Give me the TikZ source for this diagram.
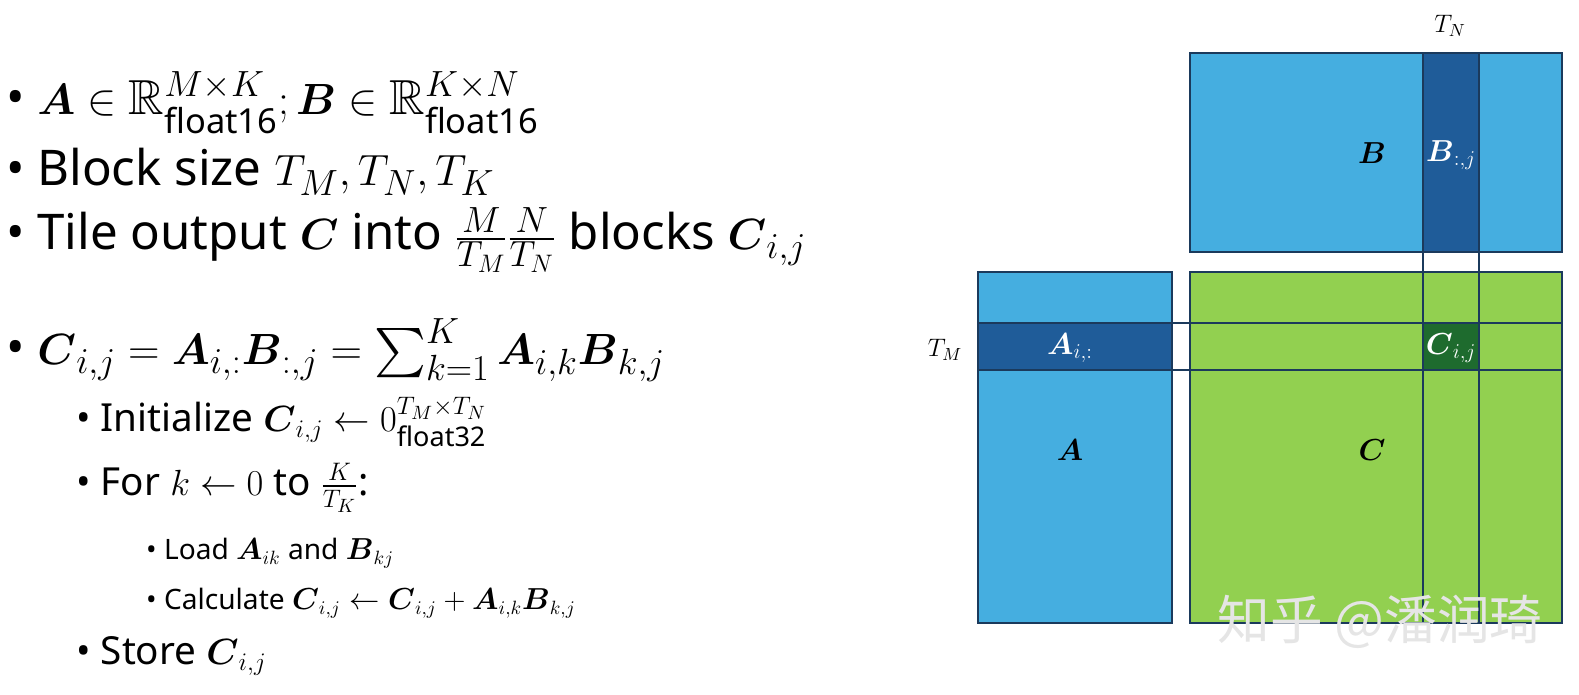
\documentclass[tikz,border=0pt]{standalone}
\usepackage{amsmath,amssymb}
\usepackage{fontspec}
\setmainfont{Noto Sans}
\newfontfamily\cjk{Noto Sans CJK SC}
\usetikzlibrary{positioning}
\definecolor{lblue}{HTML}{45AEE0}
\definecolor{dblue}{HTML}{1F5C99}
\definecolor{lgreen}{HTML}{92D050}
\definecolor{dgreen}{HTML}{1E6B2E}
\definecolor{edge}{HTML}{1B3A5C}
\newcommand{\bs}[1]{\boldsymbol{#1}}
\tikzset{
  blk/.style={draw=edge, line width=1.2pt},
  lvla/.style={anchor=west, font=\fontsize{28}{32}\selectfont},
  lvlb/.style={anchor=west, font=\fontsize{22}{26}\selectfont},
  lvlc/.style={anchor=west, font=\fontsize{16}{20}\selectfont},
}
\begin{document}
\begin{tikzpicture}[x=0.02cm, y=-0.02cm]
    \useasboundingbox (0,0) rectangle (1579,694);
    % text on the left
    \node [lvla] (l1) at (0,103) {\textbullet\ $\bs{A}\in\mathbb{R}^{M\times K}_{\mathbf{float16}};\bs{B}\in\mathbb{R}^{K\times N}_{\mathbf{float16}}$};
    \node [lvla] (l2) at (0,172) {\textbullet\ Block size $T_M,T_N,T_K$};
    \node [lvla] (l3) at (0,240) {\textbullet\ Tile output $\bs{C}$ into $\frac{M}{T_M}\frac{N}{T_N}$ blocks $\bs{C}_{i,j}$};
    \node [lvla] (l4) at (0,350) {\textbullet\ $\bs{C}_{i,j}=\bs{A}_{i,:}\bs{B}_{:,j}=\sum_{k=1}^{K}\bs{A}_{i,k}\bs{B}_{k,j}$};
    \node [lvlb] (l5) at (70,422) {\textbullet\ Initialize $\bs{C}_{i,j}\leftarrow 0^{T_M\times T_N}_{\mathbf{float32}}$};
    \node [lvlb] (l6) at (70,488) {\textbullet\ For $k\leftarrow 0$ to $\frac{K}{T_K}$:};
    \node [lvlc] (l7) at (140,553) {\textbullet\ Load $\bs{A}_{ik}$ and $\bs{B}_{kj}$};
    \node [lvlc] (l8) at (140,603) {\textbullet\ Calculate $\bs{C}_{i,j}\leftarrow\bs{C}_{i,j}+\bs{A}_{i,k}\bs{B}_{k,j}$};
    \node [lvlb] (l9) at (70,656) {\textbullet\ Store $\bs{C}_{i,j}$};
    % blocks
    \fill [lblue] (1190,53) rectangle (1562,252);
    \fill [dblue] (1423,53) rectangle (1479,252);
    \draw [blk] (1190,53) rectangle (1562,252);
    \fill [lblue] (978,272) rectangle (1172,623);
    \fill [dblue] (978,323) rectangle (1172,370);
    \draw [blk] (978,272) rectangle (1172,623);
    \fill [lgreen] (1190,272) rectangle (1562,623);
    \fill [dgreen] (1423,323) rectangle (1479,370);
    \draw [blk] (1190,272) rectangle (1562,623);
    % strips
    \coordinate (hl1) at (978,323); \coordinate (hr1) at (1562,323);
    \coordinate (hl2) at (978,370); \coordinate (hr2) at (1562,370);
    \coordinate (vt1) at (1423,53); \coordinate (vb1) at (1423,623);
    \coordinate (vt2) at (1479,53); \coordinate (vb2) at (1479,623);
    \draw [blk] (hl1) -- (hr1);
    \draw [blk] (hl2) -- (hr2);
    \draw [blk] (vt1) -- (vb1);
    \draw [blk] (vt2) -- (vb2);
    % labels
    \node [font=\LARGE] (bl) at (1372,153) {$\bs{B}$};
    \node [font=\LARGE, white] (bj) at (1451,155) {$\bs{B}_{:,j}$};
    \node [font=\LARGE, white] (ai) at (1070,348) {$\bs{A}_{i,:}$};
    \node [font=\LARGE, white] (cij) at (1451,348) {$\bs{C}_{i,j}$};
    \node [font=\LARGE] (al) at (1070,450) {$\bs{A}$};
    \node [font=\LARGE] (cl) at (1372,450) {$\bs{C}$};
    \node [font=\Large] (tn) at (1450,26) {$T_N$};
    \node [font=\Large] (tm) at (945,350) {$T_M$};
    \node [font=\cjk\fontsize{30}{34}\selectfont, white!80!gray] (wm) at (1380,622) {知乎 @潘润琦};
\end{tikzpicture}
\end{document}
